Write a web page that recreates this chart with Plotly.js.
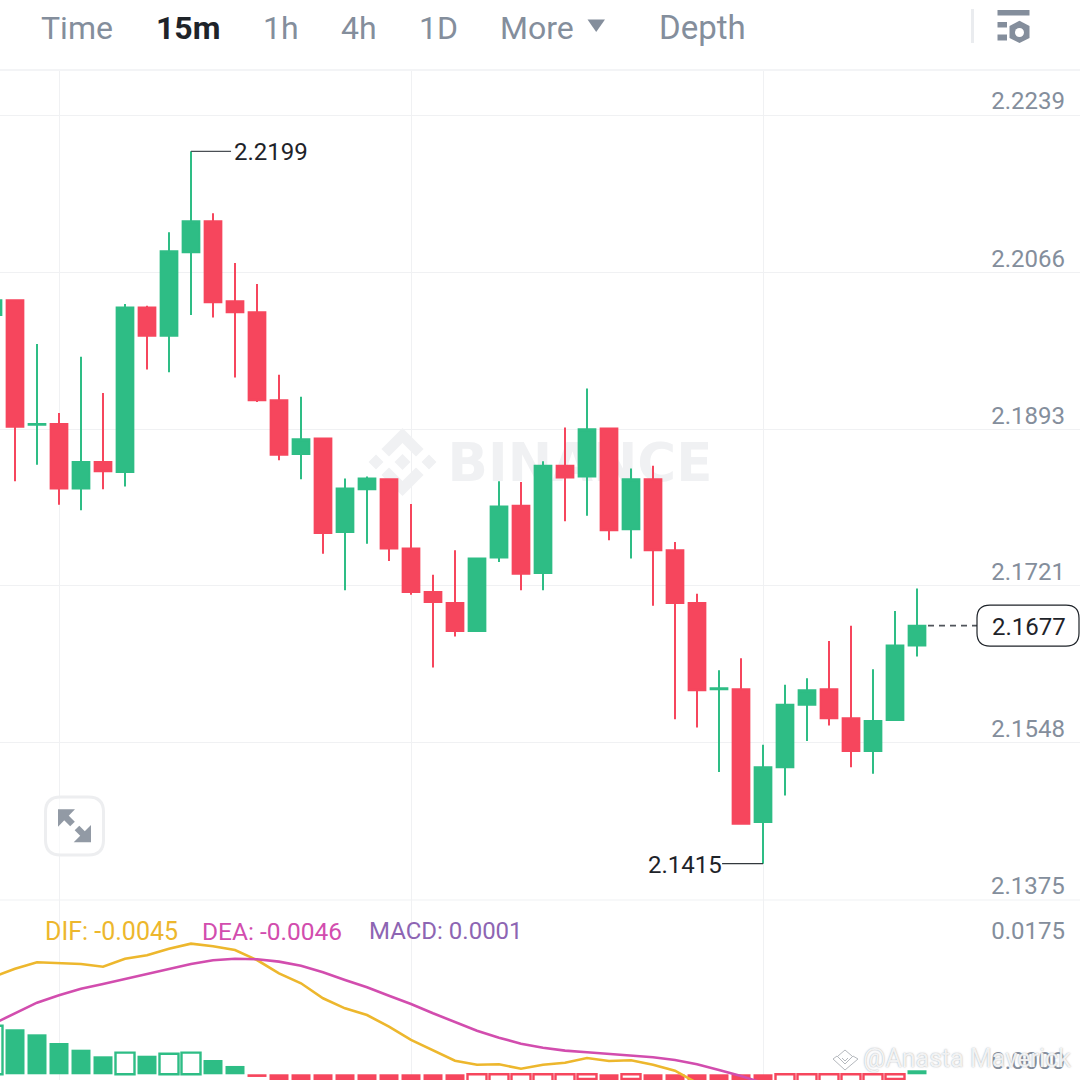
<!DOCTYPE html>
<html>
<head>
<meta charset="utf-8">
<script src="https://cdn.plot.ly/plotly-3.0.1.min.js"></script>
<style>html,body{margin:0;padding:0;background:#fff}#chart{width:1080px;height:1080px}</style>
</head>
<body>
<div id="chart"></div>
<script>
// ---------- data ----------
const candleIndex = [-1,0,1,2,3,4,5,6,7,8,9,10,11,12,13,14,15,16,17,18,19,20,21,22,23,24,25,26,27,28,29,30,31,32,33,34,35,36,37,38,39,40,41];
const opens  = [2.2019,2.2035,2.1898,2.1899,2.1828,2.1857,2.1846,2.2027,2.1996,2.2088,2.2122,2.2034,2.2022,2.1925,2.1866,2.1883,2.1780,2.1827,2.1838,2.1762,2.1714,2.1702,2.1671,2.1752,2.1809,2.1735,2.1853,2.1841,2.1894,2.1783,2.1838,2.1760,2.1702,2.1607,2.1607,2.1461,2.1521,2.1590,2.1607,2.1575,2.1539,2.1573,2.1655];
const highs  = [2.2035,2.2035,2.1987,2.1911,2.1973,2.1933,2.2031,2.2029,2.2110,2.2199,2.2131,2.2076,2.2053,2.1953,2.1929,2.1883,2.1839,2.1841,2.1839,2.1811,2.1733,2.1760,2.1751,2.1836,2.1835,2.1858,2.1895,2.1938,2.1894,2.1850,2.1853,2.1769,2.1712,2.1628,2.1641,2.1546,2.1612,2.1619,2.1660,2.1677,2.1629,2.1693,2.1718];
const lows   = [2.2019,2.1836,2.1854,2.1810,2.1804,2.1827,2.1830,2.1959,2.1956,2.2019,2.2016,2.1950,2.1923,2.1859,2.1838,2.1756,2.1716,2.1767,2.1748,2.1711,2.1631,2.1665,2.1671,2.1747,2.1716,2.1716,2.1792,2.1798,2.1771,2.1751,2.1699,2.1574,2.1565,2.1516,2.1459,2.1415,2.1490,2.1550,2.1567,2.1521,2.1514,2.1572,2.1643];
const closes = [2.2035,2.1896,2.1899,2.1828,2.1857,2.1847,2.2027,2.1996,2.2089,2.2122,2.2033,2.2022,2.1925,2.1865,2.1882,2.1779,2.1828,2.1839,2.1762,2.1714,2.1703,2.1671,2.1751,2.1808,2.1734,2.1853,2.1840,2.1893,2.1782,2.1838,2.1760,2.1702,2.1606,2.1608,2.1459,2.1521,2.1590,2.1606,2.1575,2.1539,2.1572,2.1655,2.1677];

const priceTicks = [2.2239,2.2066,2.1893,2.1721,2.1548];
const priceTickLabels = ['2.2239','2.2066','2.1893','2.1721','2.1548'];
const bottomPriceLabel = '2.1375';
const macdTicks = [0.0175,0];
const macdTickLabels = ['0.0175','0.0000'];
const timeGridIndex = [2,18,34];

const highPrice = 2.2199, highIndex = 8;
const lowPrice = 2.1415, lowIndex = 34;
const lastPrice = 2.1677, lastIndex = 41;

const difValues = [0.01310,0.01421,0.01508,0.01494,0.01485,0.01448,0.01556,0.01602,0.01691,0.01758,0.01723,0.01673,0.01538,0.01359,0.01225,0.01023,0.00888,0.00798,0.00641,0.00462,0.00318,0.00183,0.00129,0.00135,0.00075,0.00129,0.00156,0.00219,0.00179,0.00188,0.00129,0.00048,-0.00117];
const deaValues = [0.00677,0.00821,0.00964,0.01063,0.01152,0.01215,0.01283,0.01350,0.01417,0.01485,0.01534,0.01556,0.01548,0.01516,0.01462,0.01373,0.01269,0.01171,0.01058,0.00946,0.00821,0.00700,0.00587,0.00493,0.00412,0.00358,0.00318,0.00296,0.00273,0.00256,0.00229,0.00192,0.00135,0.00058,-0.00023,-0.00117];
const macdValues = [0.00654,0.00606,0.00538,0.00421,0.00331,0.00242,0.00291,0.00250,0.00277,0.00291,0.00192,0.00112,-0.00036,-0.00157,-0.00237,-0.00350,-0.00381,-0.00385,-0.00417,-0.00484,-0.00503,-0.00517,-0.00458,-0.00358,-0.00337,-0.00229,-0.00162,-0.00063,-0.00094,-0.00063,-0.00100,-0.00144,-0.00252,-0.00300,-0.00350,-0.00360,-0.00320,-0.00280,-0.00220,-0.00170,-0.00130,-0.00063,0.00054];
const macdHollow = [1,0,0,0,0,0,1,0,1,1,0,0,0,0,0,0,0,0,0,0,0,0,1,1,1,1,1,1,0,1,0,0,0,0,0,0,1,1,1,1,1,1,0];

// ---------- styles ----------
const GREEN = '#2EBD85', RED = '#F6465D', GRID = '#F0F1F3', GREY = '#848E9C', DARK = '#1E2329';
const FONT = 'Roboto, sans-serif';
const px = x => x / 1080, py = y => 1 - y / 1080;
const xRange = [-15 / 22, (1080 - 15) / 22];
const priceAt = y => 2.2239 - (y - 115) * 0.00011006;

function poly(points, fill) {
  const d = points.map((p, i) => (i ? 'L' : 'M') + px(p[0]) + ' ' + py(p[1])).join(' ') + ' Z';
  return {type:'path', xref:'paper', yref:'paper', path:d, fillcolor:fill, line:{width:0}, layer:'above'};
}
function open(points, color, w) {
  const d = points.map((p, i) => (i ? 'L' : 'M') + px(p[0]) + ' ' + py(p[1])).join(' ');
  return {type:'path', xref:'paper', yref:'paper', path:d, line:{color:color, width:w}, layer:'above'};
}
function rect(x0, y0, x1, y1, fill) {
  return {type:'rect', xref:'paper', yref:'paper', x0:px(x0), x1:px(x1), y0:py(y0), y1:py(y1), fillcolor:fill, line:{width:0}, layer:'above'};
}
function roundPath(hw, hh, r) {
  return `M ${-hw+r} ${-hh} L ${hw-r} ${-hh} Q ${hw} ${-hh} ${hw} ${-hh+r} L ${hw} ${hh-r} Q ${hw} ${hh} ${hw-r} ${hh} L ${-hw+r} ${hh} Q ${-hw} ${hh} ${-hw} ${hh-r} L ${-hw} ${-hh+r} Q ${-hw} ${-hh} ${-hw+r} ${-hh} Z`;
}
function pixelBox(cx, cy, hw, hh, r, fill, lineColor, lw) {
  return {type:'path', xsizemode:'pixel', ysizemode:'pixel', xref:'paper', yref:'paper', xanchor:px(cx), yanchor:py(cy),
    path:roundPath(hw, hh, r), fillcolor:fill, line:{color:lineColor, width:lw}, layer:'above'};
}
function txt(text, x, y, color, size, anchor, weight) {
  return {xref:'paper', yref:'paper', x:px(x), y:py(y), text:text, showarrow:false, xanchor:anchor || 'left', yanchor:'middle',
    borderpad:0, font:{family:FONT, size:size, color:color, weight:weight || 400}};
}

// ---------- decorations ----------
const shapes = [
  rect(0, 69, 1080, 71, '#F3F4F6'),
  rect(0, 899.5, 1080, 900.5, GRID),
  rect(971, 9, 974, 43, '#EAECEF'),
  // settings icon
  rect(997.5, 10, 1029.5, 15.5, GREY),
  rect(997.5, 22, 1007, 27.5, GREY),
  rect(997.5, 34.5, 1007, 40.5, GREY),
  poly([[1019.5,20.7],[1029.5,26],[1029.5,38],[1019.5,43],[1009.5,38],[1009.5,26]], GREY),
  {type:'circle', xref:'paper', yref:'paper', x0:px(1015), x1:px(1024), y0:py(28), y1:py(37), fillcolor:'#fff', line:{width:0}, layer:'above'},
  // More triangle
  poly([[587.5,19.5],[605,19.5],[596.2,32]], GREY),
  // expand button
  pixelBox(74.5, 826, 29, 29, 15, 'rgba(255,255,255,0.55)', '#EDEEF0', 3),
  poly([[58,809.3],[75,809.3],[58,826.7]], '#929AA5'),
  poly([[91,842.3],[73.7,842.3],[91,825]], '#929AA5'),
  open([[65,816.5],[72.5,824]], '#929AA5', 6.5),
  open([[84,835],[77,828]], '#929AA5', 6.5),
  // high / low leaders and last price
  {type:'line', xref:'x2', yref:'y2', x0:highIndex, x1:highIndex + 1.82, y0:highPrice, y1:highPrice, line:{color:'#4A4F55', width:1.3}, layer:'above'},
  {type:'line', xref:'x2', yref:'y2', x0:lowIndex, x1:lowIndex - 1.86, y0:lowPrice, y1:lowPrice, line:{color:'#33383D', width:1.3}, layer:'above'},
  {type:'line', xref:'x2', yref:'y2', x0:lastIndex + 0.5, x1:(977 - 15) / 22, y0:lastPrice, y1:lastPrice, line:{color:'#50555B', width:1.7, dash:'6px,5px'}, layer:'above'},
  pixelBox(1028, 625.6, 51, 20.5, 13, '#fff', '#1E2329', 1.2),
];
// BINANCE logo behind the candles
const logoCx = 402.5, logoCy = 462;
[
  [[0,-34],[21,-13],[13.5,-5.5],[0,-19],[-13.5,-5.5],[-21,-13]],
  [[0,34],[21,13],[13.5,5.5],[0,19],[-13.5,5.5],[-21,13]],
  [[0,-8],[8,0],[0,8],[-8,0]],
  [[-26.5,-7.5],[-19,0],[-26.5,7.5],[-34,0]],
  [[26.5,-7.5],[34,0],[26.5,7.5],[19,0]],
].forEach(pts => {
  const s = poly(pts.map(p => [p[0] + logoCx, p[1] + logoCy]), '#F0F1F3');
  s.layer = 'below';
  shapes.push(s);
});
// author mark logo
[
  [[838,1056],[845,1050],[852,1056]],
  [[842,1058],[845,1061],[848,1058]],
  [[833,1059],[837,1056],[845,1064],[853,1056],[858,1059],[845,1070],[833,1059]],
].forEach(pts => shapes.push(open(pts, '#B5B9BE', 1)));

const annotations = [
  txt('Time', 39.5, 28, GREY, 32),
  txt('15m', 155, 28, DARK, 32, 'left', 700),
  txt('1h', 281, 28, GREY, 32, 'center'),
  txt('4h', 358.5, 28, GREY, 32, 'center'),
  txt('1D', 438.5, 28, GREY, 32, 'center'),
  txt('More', 499, 28, GREY, 32),
  txt('Depth', 658, 28, GREY, 33),
  txt('DIF: -0.0045', 43.5, 931, '#EDB72D', 25),
  txt('DEA: -0.0046', 201, 931, '#D24DAE', 24.5),
  txt('MACD: 0.0001', 368, 931, '#8D65B3', 24),
  txt(bottomPriceLabel, 1066, 886, GREY, 24, 'right'),
  {xref:'x2', yref:'y2', x:highIndex + 1.9, y:highPrice, yshift:-1, text:String(highPrice), showarrow:false, xanchor:'left', yanchor:'middle', borderpad:0, font:{family:FONT, size:24, color:DARK}},
  {xref:'x2', yref:'y2', x:lowIndex - 1.84, y:lowPrice, yshift:-1.5, text:String(lowPrice), showarrow:false, xanchor:'right', yanchor:'middle', borderpad:0, font:{family:FONT, size:24, color:DARK}},
  txt(String(lastPrice), 1028.5, 627, DARK, 24, 'center'),
  {xref:'paper', yref:'paper', x:px(862), y:py(1058), text:'@Anasta Maverick', showarrow:false, xanchor:'left', yanchor:'middle', borderpad:0,
   font:{family:FONT, size:25, color:'rgba(255,255,255,0.85)', shadow:'0 0 1.5px #8A8F96'}},
];

// ---------- traces ----------
const watermark = {
  type:'scatter', mode:'text', x:[(580 - 15) / 22], y:[priceAt(468)], text:['BINANCE'], xaxis:'x', yaxis:'y',
  textposition:'middle center', textfont:{family:'DejaVu Sans, sans-serif', size:53, color:'#F0F1F3', weight:700},
  hoverinfo:'skip', showlegend:false
};
const candles = {
  type:'candlestick', x:candleIndex, open:opens, high:highs, low:lows, close:closes, xaxis:'x2', yaxis:'y2',
  increasing:{line:{color:GREEN, width:2}, fillcolor:GREEN},
  decreasing:{line:{color:RED, width:2}, fillcolor:RED},
  whiskerwidth:0, showlegend:false, hoverinfo:'skip'
};
const macdBars = {
  type:'bar', x:candleIndex, y:macdValues, xaxis:'x3', yaxis:'y3', showlegend:false, hoverinfo:'skip',
  marker:{
    color:macdValues.map((v, i) => macdHollow[i] ? '#fff' : (v >= 0 ? GREEN : RED)),
    line:{color:macdValues.map(v => v >= 0 ? GREEN : RED), width:macdHollow.map(h => h ? 2.4 : 0)}
  }
};
const difLine = {type:'scatter', mode:'lines', x:candleIndex.slice(0, difValues.length), y:difValues, xaxis:'x3', yaxis:'y3', line:{color:'#EDB72D', width:2.6}, showlegend:false, hoverinfo:'skip'};
const deaLine = {type:'scatter', mode:'lines', x:candleIndex.slice(0, deaValues.length), y:deaValues, xaxis:'x3', yaxis:'y3', line:{color:'#D24DAE', width:2.6}, showlegend:false, hoverinfo:'skip'};

const mainDomain = [180 / 1080, 1009 / 1080];
const macdDomain = [0, 180 / 1080];
const priceRange = [priceAt(900), priceAt(71)];
const macdRange = [-0.00077, 0.02346];
const hiddenAxis = {visible:false, fixedrange:true};
const timeAxis = {range:xRange, fixedrange:true, showgrid:true, gridcolor:GRID, gridwidth:1, tickmode:'array', tickvals:timeGridIndex, showticklabels:false, ticks:'', zeroline:false, showline:false, rangeslider:{visible:false}};
const labelAxis = {side:'right', fixedrange:true, tickmode:'array', ticklabelposition:'inside', ticks:'', zeroline:false, showline:false, ticklabelshift:-14, ticklabelstandoff:12, tickfont:{family:FONT, size:24, color:GREY}};

const layout = {
  width:1080, height:1080, margin:{l:0, r:0, t:0, b:0}, paper_bgcolor:'#fff', plot_bgcolor:'rgba(0,0,0,0)', showlegend:false,
  bargap:0.136, boxgap:0.24, boxgroupgap:0,
  font:{family:FONT},
  xaxis:Object.assign({}, hiddenAxis, {range:xRange, anchor:'y', domain:[0,1]}),
  yaxis:Object.assign({}, hiddenAxis, {range:priceRange, anchor:'x', domain:mainDomain}),
  xaxis2:Object.assign({}, timeAxis, {anchor:'y2', domain:[0,1]}),
  yaxis2:Object.assign({}, labelAxis, {range:priceRange, anchor:'x2', domain:mainDomain, tickvals:priceTicks, ticktext:priceTickLabels, showgrid:true, gridcolor:GRID, gridwidth:1}),
  xaxis3:Object.assign({}, timeAxis, {anchor:'y3', domain:[0,1]}),
  yaxis3:Object.assign({}, labelAxis, {range:macdRange, anchor:'x3', domain:macdDomain, tickvals:macdTicks, ticktext:macdTickLabels, showgrid:false}),
  shapes:shapes, annotations:annotations
};
Plotly.newPlot('chart', [watermark, candles, macdBars, difLine, deaLine], layout, {displayModeBar:false, staticPlot:true});
</script>
</body>
</html>
